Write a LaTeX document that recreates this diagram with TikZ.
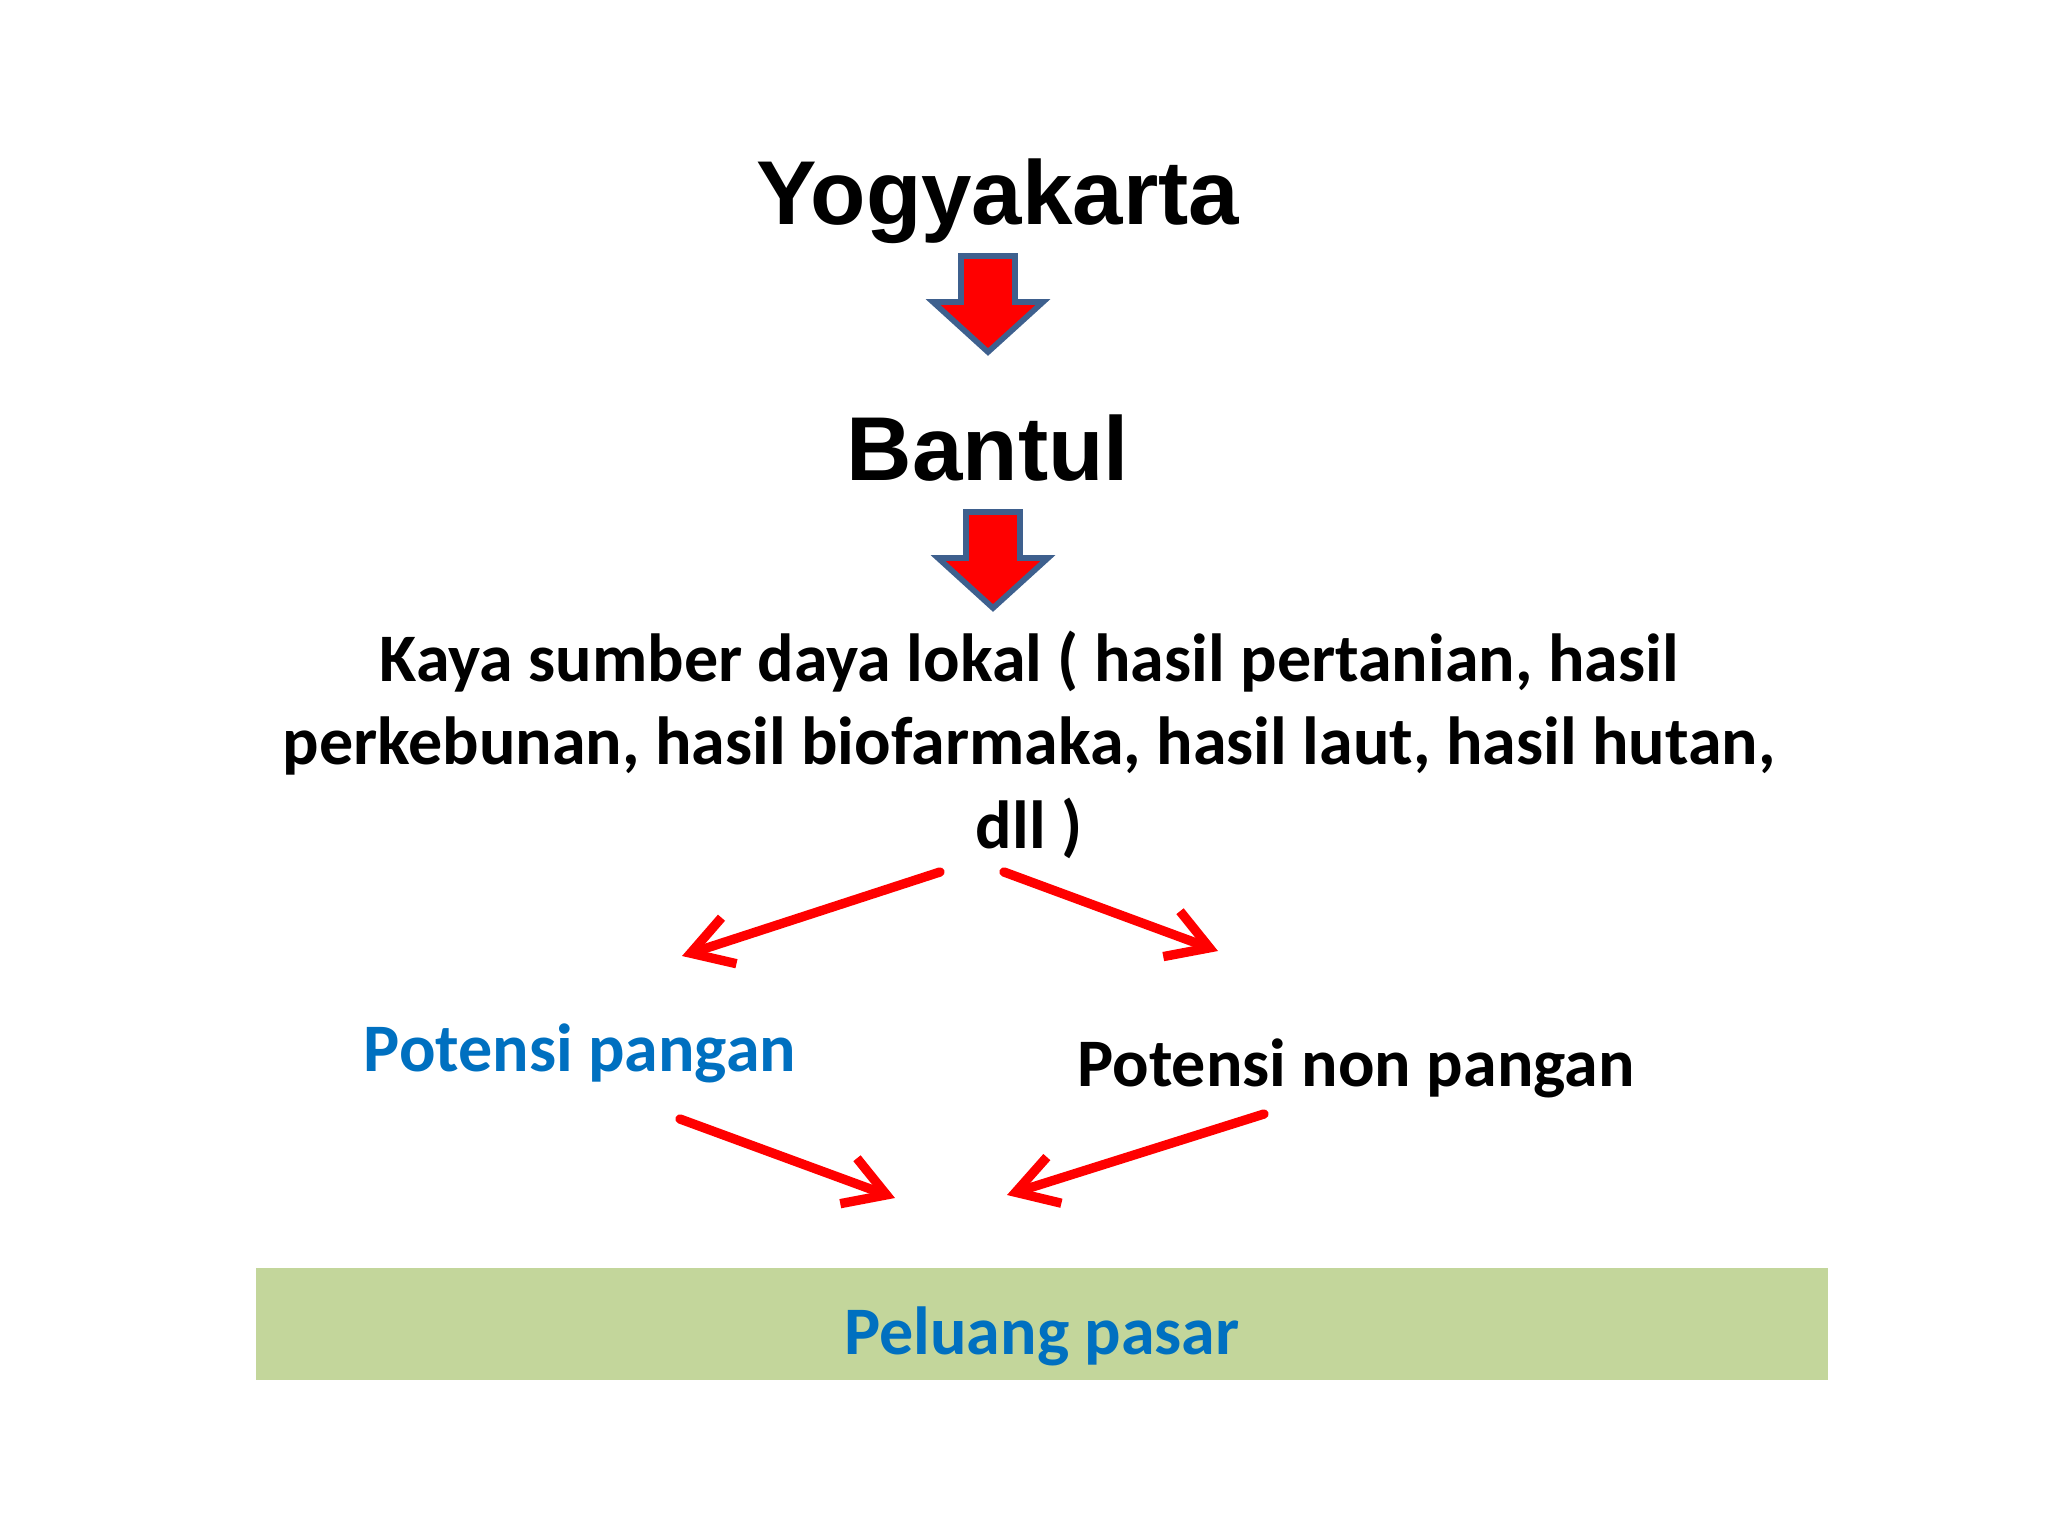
\documentclass[tikz,border=0pt]{standalone}
\usepackage{fontspec}
\setmainfont{Carlito}
\newfontfamily\arialfont{Liberation Sans}
\usetikzlibrary{arrows.meta}

\definecolor{arrowRed}{RGB}{255,0,0}
\definecolor{arrowEdge}{RGB}{62,96,142}
\definecolor{textBlue}{RGB}{0,112,192}
\definecolor{barGreen}{RGB}{195,214,155}

\begin{document}
\begin{tikzpicture}[
    x=1.24cm,
    y=-1.24cm,
    thick
]

% =========================
% Styles
% =========================
\tikzstyle{title} = [
    font=\arialfont\bfseries\fontsize{32}{38}\selectfont,
    anchor=base,
    inner sep=0pt
]

\tikzstyle{body} = [
    font=\bfseries\fontsize{24}{29.3}\selectfont,
    anchor=base,
    align=center,
    inner sep=0pt
]

\tikzstyle{fatarrow} = [
    draw=arrowEdge,
    fill=arrowRed,
    line width=2pt,
    line join=miter
]

\tikzstyle{bandbox} = [
    rectangle,
    fill=barGreen,
    minimum width=19.49cm,
    minimum height=1.39cm
]

\tikzstyle{line} = [draw=arrowRed, line width=3.3pt, line cap=round,
    -{Straight Barb[length=5mm,width=6mm]}]

\useasboundingbox (0,0) rectangle (20.48,15.36);

% =========================
% Nodes (FIXED POSITIONS)
% =========================
\node[title] (yogya) at (9.98,2.24) {Yogyakarta};
\node[title] (bantul) at (9.88,4.80) {Bantul};

% last line sits on the anchor
\node[body] (kaya) at (10.29,8.48)
    {Kaya sumber daya lokal ( hasil pertanian, hasil\\
     perkebunan, hasil biofarmaka, hasil laut, hasil hutan,\\
     dll )};

\node[body, text=textBlue] (pangan) at (5.80,10.71) {Potensi pangan};
\node[body] (nonpangan) at (13.56,10.86) {Potensi non pangan};

\node[bandbox] (band) at (10.42,13.24) {};
\node[body, text=textBlue] (pasar) at (10.42,13.54) {Peluang pasar};

% =========================
% Block arrows
% =========================
\coordinate (down1) at (9.88,2.56);
\coordinate (down2) at (9.93,5.12);

\path[fatarrow] (down1) ++(-0.27,0) -- ++(0.54,0) -- ++(0,0.46)
    -- ++(0.28,0) -- ++(-0.55,0.50) -- ++(-0.55,-0.50)
    -- ++(0.28,0) -- cycle;

\path[fatarrow] (down2) ++(-0.27,0) -- ++(0.54,0) -- ++(0,0.46)
    -- ++(0.28,0) -- ++(-0.55,0.50) -- ++(-0.55,-0.50)
    -- ++(0.28,0) -- cycle;

% =========================
% Connections
% =========================
\coordinate (kayaL) at (9.40,8.72);
\coordinate (kayaR) at (10.04,8.72);
\coordinate (panganT) at (6.82,9.56);
\coordinate (nonT) at (12.18,9.51);
\coordinate (panganB) at (6.80,11.19);
\coordinate (nonB) at (12.64,11.14);
\coordinate (pasarL) at (8.95,11.98);
\coordinate (pasarR) at (10.07,11.95);

\path[line] (kayaL) -- (panganT);
\path[line] (kayaR) -- (nonT);
\path[line] (panganB) -- (pasarL);
\path[line] (nonB) -- (pasarR);

\end{tikzpicture}
\end{document}
